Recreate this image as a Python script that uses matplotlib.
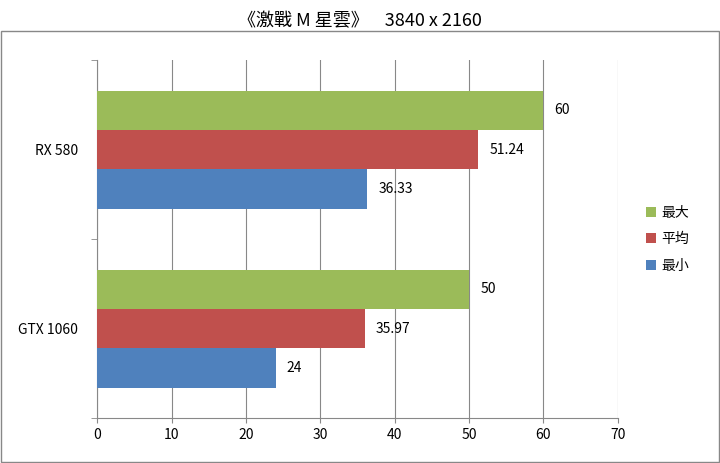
import matplotlib.pyplot as plt
from matplotlib.patches import Rectangle

plt.rcParams['font.family'] = ['Noto Sans CJK TC', 'DejaVu Sans']

categories = ["GTX 1060", "RX 580"]
series_names = ["最大", "平均", "最小"]
max_vals = [50, 60]
avg_vals = [35.97, 51.24]
min_vals = [24, 36.33]
colors = ["#9BBB59", "#C0504D", "#4F81BD"]

fig = plt.figure(figsize=(7.2, 4.63), dpi=100)
ax = fig.add_axes([0.135, 0.097, 0.723, 0.773])
fig.patches.append(Rectangle((0.002, 0.002), 0.996, 0.93, transform=fig.transFigure,
                             fill=False, edgecolor="#888888", linewidth=1))

h = 0.22
ypos = list(range(len(categories)))
for vals, off, c, name in [(max_vals, h, colors[0], series_names[0]),
                           (avg_vals, 0, colors[1], series_names[1]),
                           (min_vals, -h, colors[2], series_names[2])]:
    bars = ax.barh([y + off for y in ypos], vals, height=h, color=c, label=name, zorder=3)
    for b, v in zip(bars, vals):
        ax.text(v + 1.5, b.get_y() + h / 2, f"{v:g}", va="center", ha="left", fontsize=10)

ax.set_xlim(0, 70)
ax.set_ylim(-0.5, 1.5)
ax.set_xticks(range(0, 71, 10))
ax.set_yticks(ypos)
ax.set_yticklabels(categories, fontsize=10)
ax.set_yticks([-0.5, 0.5, 1.5], minor=True)
ax.tick_params(axis="y", which="major", length=0, pad=14)
ax.tick_params(axis="y", which="minor", length=4, color="#888888")
ax.tick_params(axis="x", labelsize=10, color="#888888")
ax.grid(axis="x", color="#888888", linewidth=0.8, zorder=0)
for s in ["top", "right"]:
    ax.spines[s].set_visible(False)
for s in ["left", "bottom"]:
    ax.spines[s].set_color("#888888")

ax.legend(loc="center left", bbox_to_anchor=(1.03, 0.5), frameon=False, fontsize=10,
          handlelength=0.7, handleheight=0.7, labelspacing=0.9, handletextpad=0.4)

fig.text(0.5, 0.955, "《激戰 M 星雲》    3840 x 2160", ha="center", va="center", fontsize=13)

fig.savefig("out.png", dpi=100)
